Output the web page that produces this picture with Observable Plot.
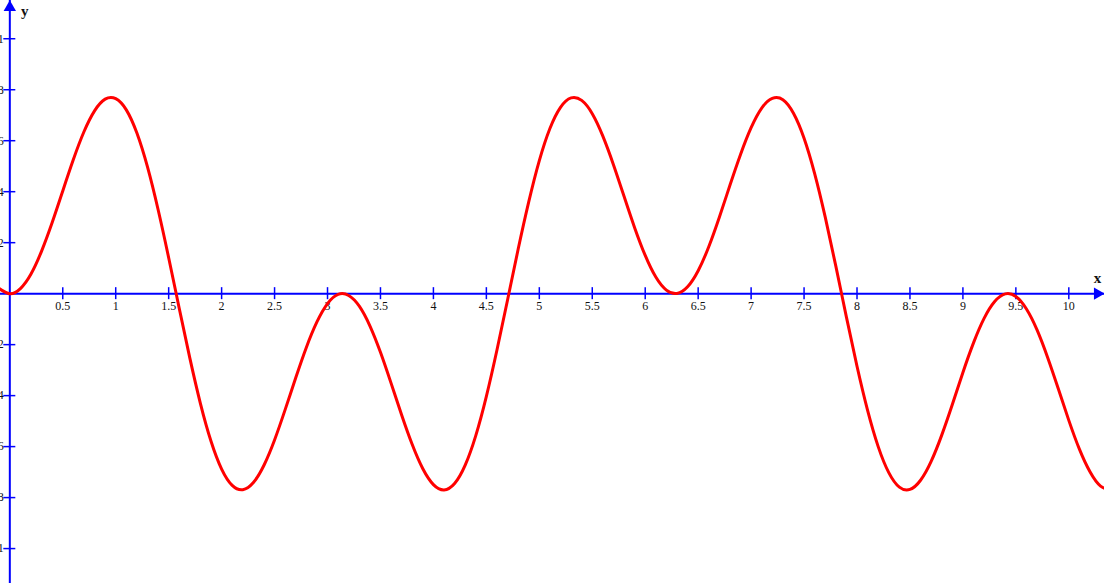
<!DOCTYPE html>
<html>
<head>
<meta charset="utf-8">
<script src="https://cdn.jsdelivr.net/npm/d3@7"></script>
<script src="https://cdn.jsdelivr.net/npm/@observablehq/plot@0.6"></script>
<style>
  html, body { margin: 0; padding: 0; background: #fff; overflow: hidden; }
  #chart svg { display: block; }
</style>
</head>
<body>
<div id="chart"></div>
<script>
const xValues = [
  -0.1, 0.0, 0.1, 0.2, 0.3, 0.4, 0.5, 0.6, 0.7, 0.8, 0.9,
  1.0, 1.1, 1.2, 1.3, 1.4, 1.5, 1.6, 1.7, 1.8, 1.9,
  2.0, 2.1, 2.2, 2.3, 2.4, 2.5, 2.6, 2.7, 2.8, 2.9,
  3.0, 3.1, 3.2, 3.3, 3.4, 3.5, 3.6, 3.7, 3.8, 3.9,
  4.0, 4.1, 4.2, 4.3, 4.4, 4.5, 4.6, 4.7, 4.8, 4.9,
  5.0, 5.1, 5.2, 5.3, 5.4, 5.5, 5.6, 5.7, 5.8, 5.9,
  6.0, 6.1, 6.2, 6.3, 6.4, 6.5, 6.6, 6.7, 6.8, 6.9,
  7.0, 7.1, 7.2, 7.3, 7.4, 7.5, 7.6, 7.7, 7.8, 7.9,
  8.0, 8.1, 8.2, 8.3, 8.4, 8.5, 8.6, 8.7, 8.8, 8.9,
  9.0, 9.1, 9.2, 9.3, 9.4, 9.5, 9.6, 9.7, 9.8, 9.9,
  10.0, 10.1, 10.2, 10.3, 10.4
];
const yValues = [
  0.020, 0.000, 0.020, 0.077, 0.167, 0.279, 0.403, 0.526, 0.635, 0.717, 0.763,
  0.765, 0.721, 0.630, 0.497, 0.330, 0.141, -0.058, -0.253, -0.431, -0.579,
  -0.688, -0.752, -0.769, -0.741, -0.673, -0.574, -0.455, -0.330, -0.211, -0.111,
  -0.039, -0.003, -0.007, -0.049, -0.126, -0.230, -0.351, -0.476, -0.592, -0.687,
  -0.749, -0.770, -0.745, -0.673, -0.557, -0.403, -0.221, -0.025, 0.174, 0.360,
  0.522, 0.648, 0.731, 0.768, 0.758, 0.706, 0.618, 0.506, 0.382, 0.259,
  0.150, 0.065, 0.014, 0.001, 0.027, 0.090, 0.184, 0.300, 0.425, 0.546,
  0.651, 0.728, 0.766, 0.761, 0.708, 0.610, 0.471, 0.300, 0.108, -0.092,
  -0.285, -0.458, -0.600, -0.702, -0.759, -0.768, -0.732, -0.658, -0.555, -0.435,
  -0.309, -0.193, -0.097, -0.031, -0.001, -0.011, -0.060, -0.142, -0.250, -0.372,
  -0.497, -0.610, -0.699, -0.755, -0.769
];

const xTicks = [0.5, 1, 1.5, 2, 2.5, 3, 3.5, 4, 4.5, 5, 5.5, 6, 6.5, 7, 7.5, 8, 8.5, 9, 9.5, 10];
const xTickLabels = ["0.5", "1", "1.5", "2", "2.5", "3", "3.5", "4", "4.5", "5", "5.5", "6", "6.5", "7", "7.5", "8", "8.5", "9", "9.5", "10"];
const yTicks = [1, 0.8, 0.6, 0.4, 0.2, -0.2, -0.4, -0.6, -0.8, -1];
const yTickLabels = ["1", "0.8", "0.6", "0.4", "0.2", "-0.2", "-0.4", "-0.6", "-0.8", "-1"];

const xDomain = [-0.088, 10.337];
const yDomain = [-1.137, 1.150];

const curve = xValues.map((x, i) => ({x, y: yValues[i]}));

const W = 1104, H = 583;
const pxX = (xDomain[1] - xDomain[0]) / W; // data units per pixel
const pxY = (yDomain[1] - yDomain[0]) / H;
const blue = "#0000ff";
const serif = "Liberation Serif, Times New Roman, serif";

const chart = Plot.plot({
  width: W,
  height: H,
  margin: 0,
  style: {background: "#fff", overflow: "hidden"},
  x: {domain: xDomain, axis: null},
  y: {domain: yDomain, axis: null},
  marks: [
    // axes lines
    Plot.ruleY([0], {stroke: blue, strokeWidth: 2}),
    Plot.ruleX([0], {stroke: blue, strokeWidth: 2}),
    // tick marks
    Plot.ruleX(xTicks, {x: d => d, y1: -6 * pxY, y2: 6 * pxY, stroke: blue, strokeWidth: 1.5}),
    Plot.ruleY(yTicks, {y: d => d, x1: -6 * pxX, x2: 6 * pxX, stroke: blue, strokeWidth: 1.5}),
    // arrow heads
    Plot.dot([0], {x: () => xDomain[1], y: 0, symbol: "triangle", r: 4.6, fill: blue, stroke: null, rotate: 90, dx: -7}),
    Plot.dot([0], {x: 0, y: () => yDomain[1], symbol: "triangle", r: 4.6, fill: blue, stroke: null, dy: 7}),
    // tick labels
    Plot.text(xTicks, {x: d => d, y: 0, text: (d, i) => xTickLabels[i], dy: 12, fontFamily: serif, fontSize: 12, fill: "#111"}),
    Plot.text(yTicks, {x: 0, y: d => d, text: (d, i) => yTickLabels[i], dx: -6, textAnchor: "end", fontFamily: serif, fontSize: 12, fill: "#111"}),
    // axis names
    Plot.text(["x"], {x: () => xDomain[1], y: 0, text: d => d, dx: -7, dy: -15, fontFamily: serif, fontSize: 15, fontWeight: "bold", fill: "#111"}),
    Plot.text(["y"], {x: 0, y: () => yDomain[1], text: d => d, dx: 15, dy: 11, fontFamily: serif, fontSize: 15, fontWeight: "bold", fill: "#111"}),
    // function curve
    Plot.line(curve, {x: "x", y: "y", stroke: "#ff0000", strokeWidth: 3, curve: "natural", clip: true})
  ]
});
document.getElementById("chart").append(chart);
</script>
</body>
</html>
